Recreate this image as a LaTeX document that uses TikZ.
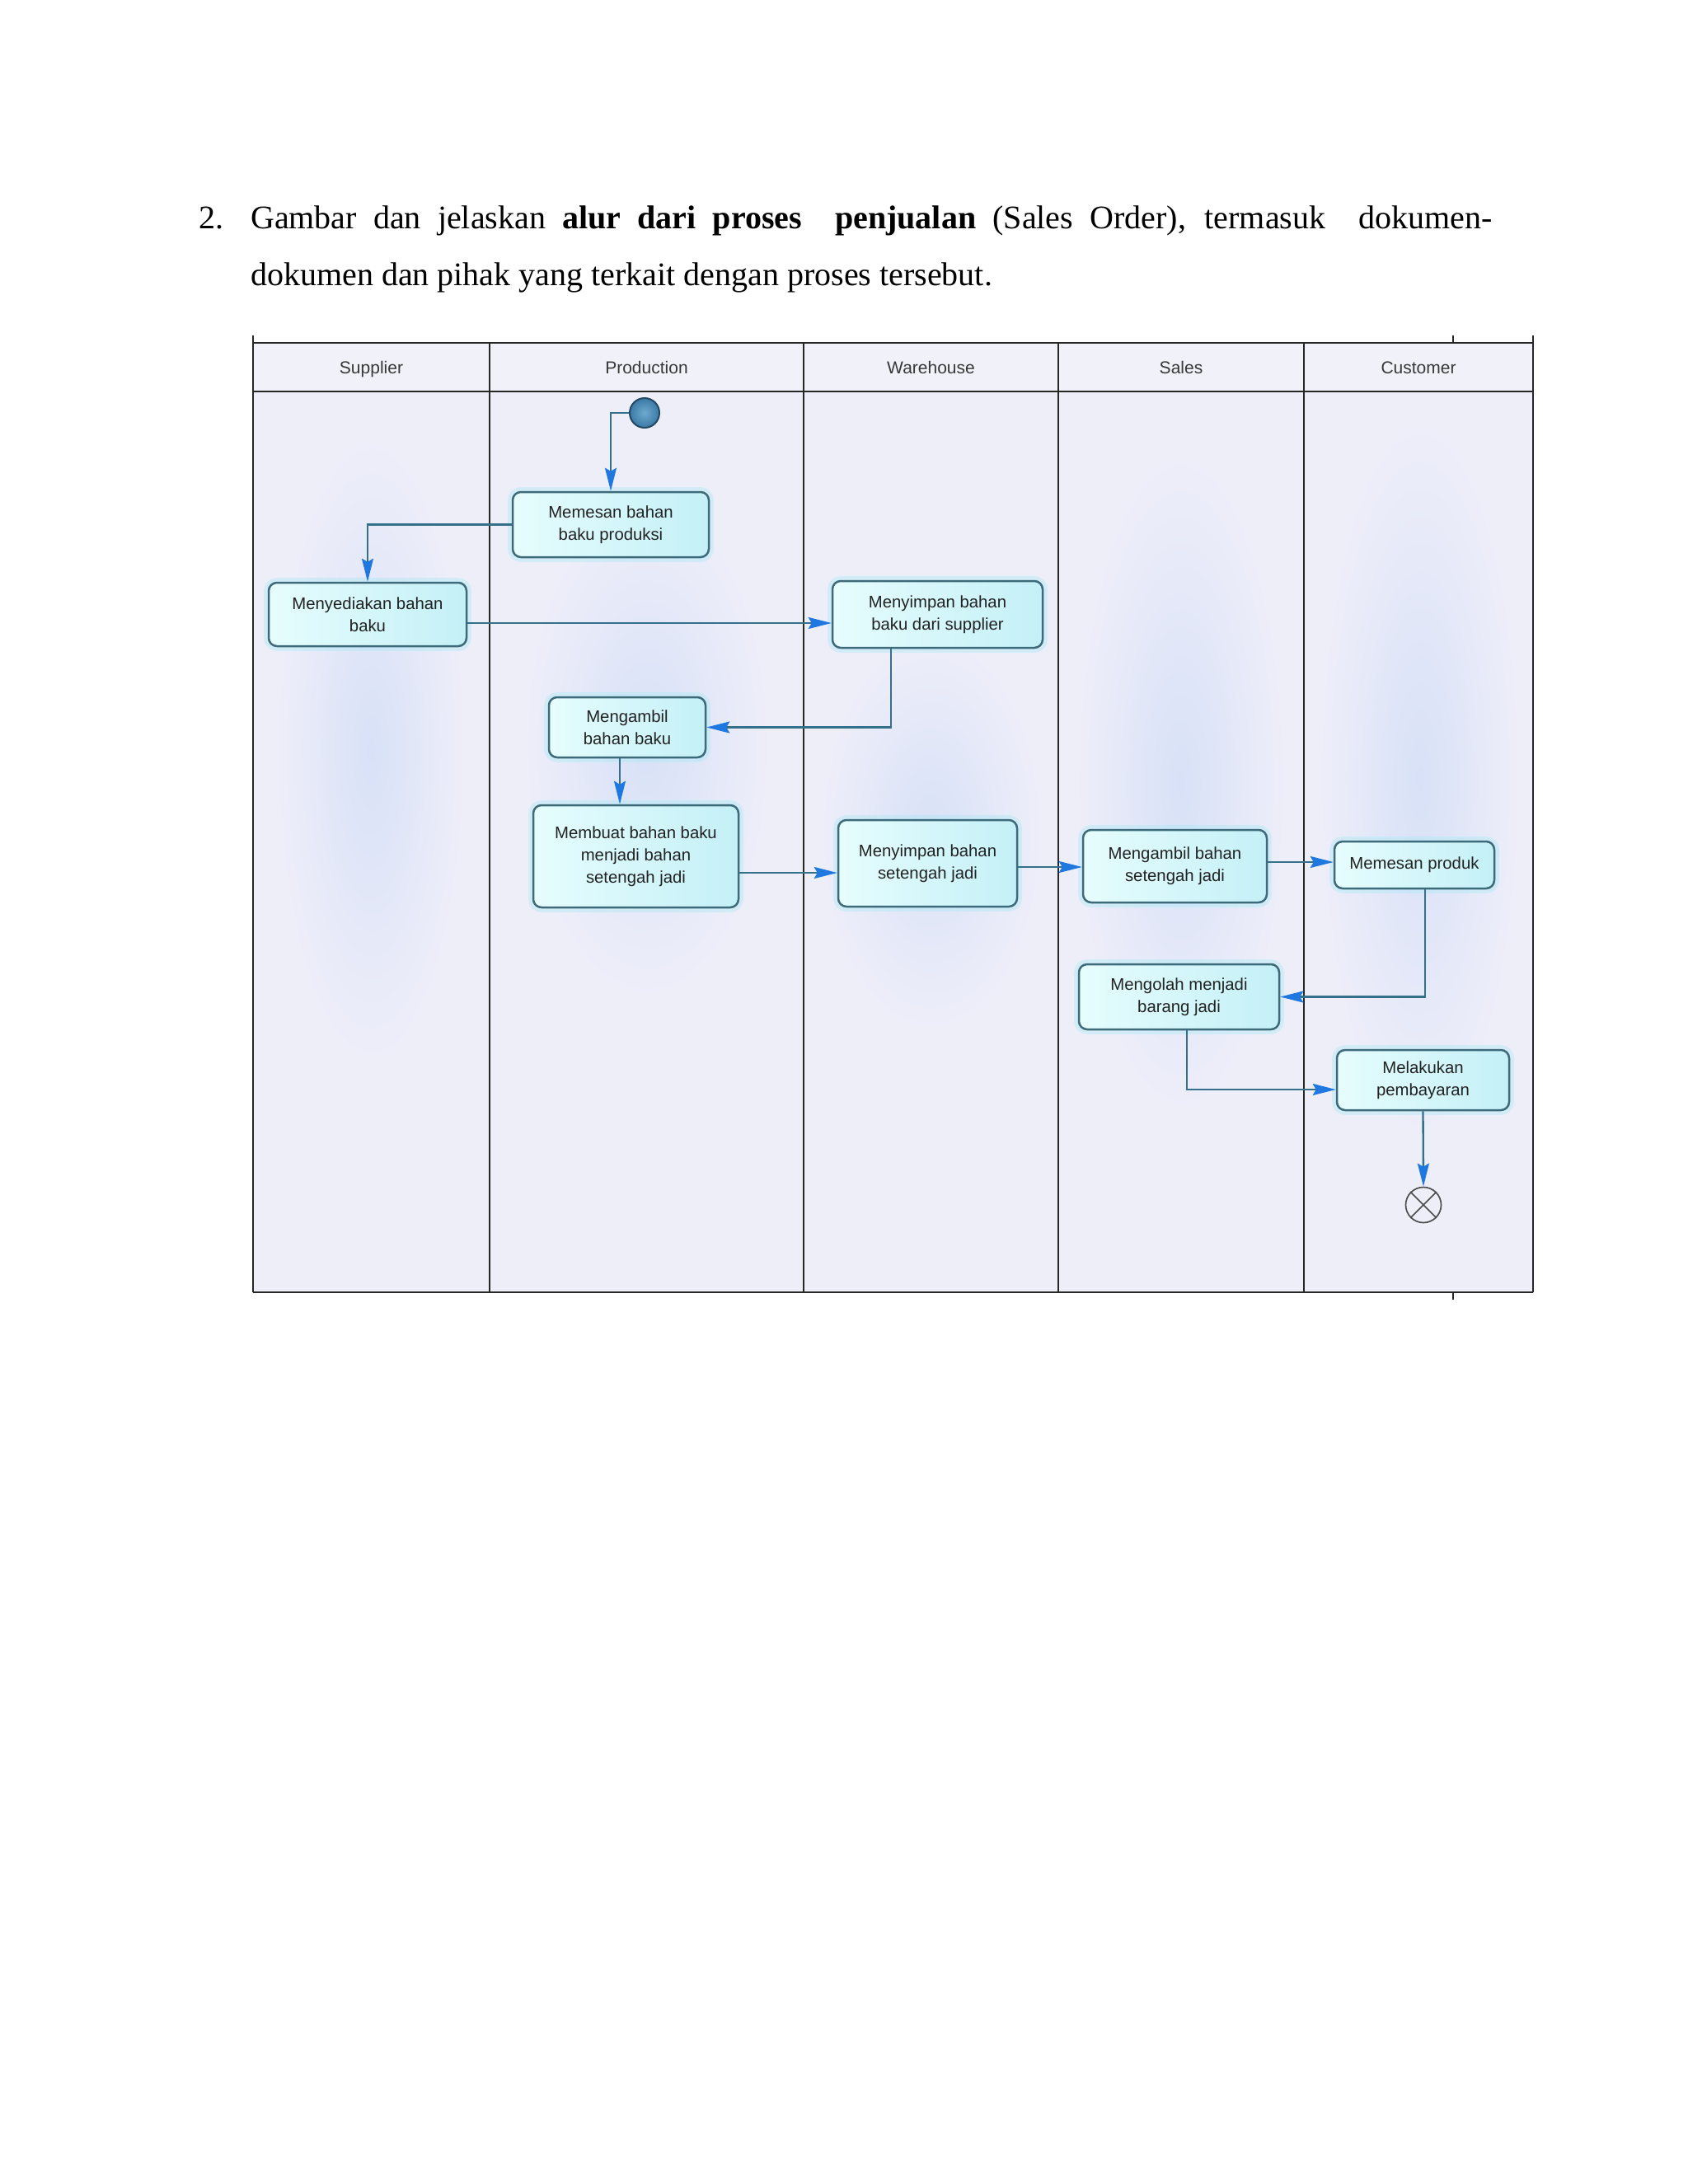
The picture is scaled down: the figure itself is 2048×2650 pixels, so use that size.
\documentclass[tikz,border=0pt]{standalone}
\usepackage{fontspec}
\setmainfont{Liberation Serif}
\newfontfamily\diagfont{Liberation Sans}
\usetikzlibrary{arrows.meta,calc}
\definecolor{lanebg}{HTML}{EEEEF9}
\definecolor{hdrbg}{HTML}{F1F1FA}
\definecolor{glowc}{HTML}{D8E1F7}
\definecolor{boxl}{HTML}{E6FDFD}
\definecolor{boxr}{HTML}{C4F0F7}
\definecolor{boxline}{HTML}{3E6B7A}
\definecolor{lineteal}{HTML}{35708A}
\definecolor{arrowblue}{HTML}{1F78E0}
\definecolor{startin}{HTML}{6FA9CE}
\definecolor{startout}{HTML}{3A7AA6}
\definecolor{txtc}{HTML}{222222}
\definecolor{haloc}{HTML}{9FEAF5}
\begin{document}
\begin{tikzpicture}[x=0.3pt,y=-0.3pt,
  frameline/.style={draw=black!85,line width=0.8pt},
  divline/.style={draw=black!85,line width=0.6pt},
  lanelabel/.style={font=\diagfont\fontsize{6.3}{7.5}\selectfont,text=txtc!90!white,inner sep=0pt,anchor=base},
  actbox/.style={draw=boxline,line width=0.75pt,rounded corners=3pt,left color=boxl,right color=boxr,
    preaction={draw=haloc,line width=3.5pt,opacity=0.35},
    font=\diagfont\fontsize{6.1}{8.1}\selectfont,text=txtc,align=center,inner sep=0pt},
  flow/.style={draw=lineteal,line width=0.7pt,-{Stealth[length=8.4pt,width=4.2pt,inset=1.2pt,color=arrowblue]}},
  para/.style={font=\fontsize{12}{14}\selectfont,anchor=base west,inner sep=0pt}
]
\useasboundingbox[fill=white] (0,0) rectangle (2048,2650);

% question text
\node[para] (num) at (241,277) {2.};
\node[para] (line1) at (303.5,277) {\makebox[452pt][s]{Gambar dan jelaskan \textbf{alur dari proses}\ \ \textbf{penjualan} (Sales Order), termasuk\ \ dokumen-}};
\node[para] (line2) at (303.5,346) {dokumen dan pihak yang terkait dengan proses tersebut.};

% swimlane background
\fill[hdrbg] (307,416) rectangle (1860,475);
\fill[lanebg] (307,475) rectangle (1860,1568);
\shade[inner color=glowc,outer color=lanebg] (335,530) rectangle (565,1290);
\shade[inner color=glowc,outer color=lanebg] (635,600) rectangle (935,1210);
\shade[inner color=glowc,outer color=lanebg] (995,770) rectangle (1265,1250);
\shade[inner color=glowc,outer color=lanebg] (1305,550) rectangle (1560,1350);
\shade[inner color=glowc,outer color=lanebg] (1600,510) rectangle (1845,1380);

% frame
\draw[frameline] (307,416) -- (1860,416);
\draw[frameline] (307,475) -- (1860,475);
\draw[frameline] (307,1568) -- (1860,1568);
\draw[divline] (307,407) -- (307,1568);
\draw[divline] (1860,407) -- (1860,1568);
\foreach \xx in {594,975,1284,1582} \draw[divline] (\xx,416) -- (\xx,1568);
\draw[divline] (1763,407) -- (1763,416);
\draw[divline] (1763,1568) -- (1763,1577);

% lane labels
\node[lanelabel] (hsup) at (450.5,453) {Supplier};
\node[lanelabel] (hpro) at (784.5,453) {Production};
\node[lanelabel] (hwar) at (1129.5,453) {Warehouse};
\node[lanelabel] (hsal) at (1433,453) {Sales};
\node[lanelabel] (hcus) at (1721,453) {Customer};

% start / end
\node[circle,draw=startout!60!black,line width=0.6pt,inner color=startin,outer color=startout,minimum size=10.8pt,inner sep=0pt] (start) at (782,501) {};
\node[circle,draw=black!70,line width=0.5pt,minimum size=12.9pt,inner sep=0pt] (end) at (1727,1462) {};
\draw[black!70,line width=0.5pt] (end.north east) -- (end.south west) (end.north west) -- (end.south east);

% activities
\node[actbox,minimum width=71.4pt,minimum height=23.7pt] (b1) at (741,636.5) {Memesan bahan\\baku produksi};
\node[actbox,minimum width=72pt,minimum height=23.1pt] (b2) at (446,745.5) {Menyediakan bahan\\baku};
\node[actbox,minimum width=76.5pt,minimum height=24.3pt] (b3) at (1137.5,745.5) {Menyimpan bahan\\baku dari supplier};
\node[actbox,minimum width=57pt,minimum height=21.9pt] (b4) at (761,882.5) {Mengambil\\bahan baku};
\node[actbox,minimum width=74.7pt,minimum height=37.2pt] (b5) at (771.5,1039) {Membuat bahan baku\\menjadi bahan\\setengah jadi};
\node[actbox,minimum width=65.1pt,minimum height=31.5pt] (b6) at (1125.5,1047.5) {Menyimpan bahan\\setengah jadi};
\node[actbox,minimum width=66.9pt,minimum height=26.4pt] (b7) at (1425.5,1051) {Mengambil bahan\\setengah jadi};
\node[actbox,minimum width=58.2pt,minimum height=17.1pt] (b8) at (1716,1049.5) {Memesan produk};
\node[actbox,minimum width=72.9pt,minimum height=23.7pt] (b9) at (1430.5,1209.5) {Mengolah menjadi\\barang jadi};
\node[actbox,minimum width=62.7pt,minimum height=21.9pt] (b10) at (1726.5,1310.5) {Melakukan\\pembayaran};

% routing coordinates
\coordinate (c23) at (0,756);
\coordinate (c34) at (1081,0);
\coordinate (c45) at (752,0);
\coordinate (c56) at (0,1059);
\coordinate (c67) at (0,1052);
\coordinate (c78) at (0,1046);
\coordinate (c89) at (1729,0);
\coordinate (c910x) at (1440,0);
\coordinate (c910y) at (0,1322);

% connectors
\draw[flow] (start.west) -| (b1.north);
\draw[flow] (b1.west) -| (b2.north);
\draw[flow] (b2.east |- c23) -- (b3.west |- c23);
\draw[flow] (b3.south -| c34) |- (b4.east);
\draw[flow] (b4.south -| c45) -- (b5.north -| c45);
\draw[flow] (b5.east |- c56) -- (b6.west |- c56);
\draw[flow] (b6.east |- c67) -- (b7.west |- c67);
\draw[flow] (b7.east |- c78) -- (b8.west |- c78);
\draw[flow] (b8.south -| c89) |- (b9.east);
\draw[flow] (b9.south -| c910x) |- (b10.west |- c910y);
\draw[flow] (b10.south) -- (end.north);
\end{tikzpicture}
\end{document}
